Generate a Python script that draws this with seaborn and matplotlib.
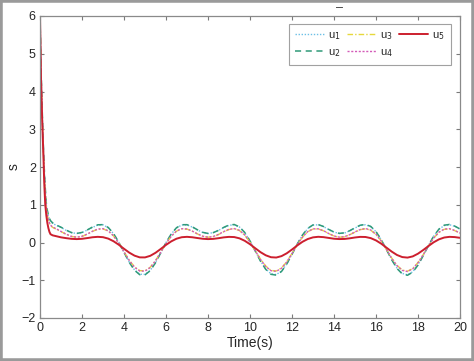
import numpy as np
import pandas as pd
import seaborn as sns
import matplotlib.pyplot as plt
from matplotlib.patches import Rectangle

# time samples: dense at the start for the fast transient, then every 0.25 s
t_start = [0.0, 0.05, 0.1, 0.15, 0.2, 0.25, 0.3, 0.35, 0.4, 0.45, 0.5, 0.6, 0.75]
t_rest = [1.0, 1.25, 1.5, 1.75, 2.0, 2.25, 2.5, 2.75, 3.0, 3.25, 3.5, 3.75,
          4.0, 4.25, 4.5, 4.75, 5.0, 5.25, 5.5, 5.75, 6.0, 6.25, 6.5, 6.75,
          7.0, 7.25, 7.5, 7.75, 8.0, 8.25, 8.5, 8.75, 9.0, 9.25, 9.5, 9.75,
          10.0, 10.25, 10.5, 10.75, 11.0, 11.25, 11.5, 11.75, 12.0, 12.25, 12.5, 12.75,
          13.0, 13.25, 13.5, 13.75, 14.0, 14.25, 14.5, 14.75, 15.0, 15.25, 15.5, 15.75,
          16.0, 16.25, 16.5, 16.75, 17.0, 17.25, 17.5, 17.75, 18.0, 18.25, 18.5, 18.75,
          19.0, 19.25, 19.5, 19.75, 20.0]
time = t_start + t_rest

# outer curve (u2, u1 lies on top of it)
u2 = [6.0, 4.6, 3.6, 2.7, 2.0, 1.45, 1.05, 0.85, 0.72, 0.64, 0.58, 0.52, 0.47,
      0.405, 0.326, 0.263, 0.240, 0.267, 0.332, 0.410, 0.469, 0.473, 0.398, 0.239, 0.009,
      -0.262, -0.526, -0.735, -0.853, -0.856, -0.746, -0.538, -0.275, -0.003, 0.227, 0.392, 0.471,
      0.472, 0.415, 0.336, 0.269, 0.240, 0.261, 0.321, 0.401, 0.464, 0.477, 0.413, 0.265,
      0.042, -0.226, -0.494, -0.712, -0.843, -0.864, -0.768, -0.571, -0.314, -0.041, 0.199, 0.375,
      0.466, 0.475, 0.424, 0.346, 0.277, 0.242, 0.255, 0.312, 0.391, 0.458, 0.479, 0.426,
      0.289, 0.075, -0.191, -0.460, -0.689, -0.833, -0.868, -0.785, -0.599, -0.348, -0.077, 0.171,
      0.356, 0.459, 0.478, 0.434, 0.358]
u1 = [6.0, 4.5, 3.55, 2.65, 1.95, 1.4, 1.0, 0.82, 0.7, 0.62, 0.56, 0.51, 0.46,
      0.40, 0.32, 0.26, 0.24, 0.26, 0.33, 0.40, 0.46, 0.47, 0.39, 0.235, 0.01,
      -0.26, -0.52, -0.725, -0.84, -0.845, -0.74, -0.53, -0.27, 0.0, 0.225, 0.385, 0.465,
      0.465, 0.41, 0.33, 0.265, 0.24, 0.26, 0.32, 0.395, 0.455, 0.47, 0.41, 0.26,
      0.04, -0.225, -0.49, -0.70, -0.83, -0.85, -0.76, -0.565, -0.31, -0.04, 0.195, 0.37,
      0.46, 0.47, 0.42, 0.34, 0.275, 0.24, 0.25, 0.31, 0.385, 0.45, 0.47, 0.42,
      0.285, 0.075, -0.19, -0.455, -0.68, -0.82, -0.855, -0.775, -0.59, -0.345, -0.075, 0.17,
      0.35, 0.45, 0.47, 0.43, 0.355]
# middle curves (u3 and u4 almost coincide)
u4 = [6.0, 4.5, 3.5, 2.6, 1.9, 1.35, 0.95, 0.74, 0.6, 0.52, 0.46, 0.41, 0.37,
      0.293, 0.219, 0.161, 0.140, 0.165, 0.224, 0.298, 0.356, 0.367, 0.309, 0.177, -0.018,
      -0.248, -0.475, -0.654, -0.755, -0.759, -0.663, -0.485, -0.259, -0.028, 0.166, 0.303, 0.365,
      0.359, 0.302, 0.228, 0.167, 0.140, 0.159, 0.215, 0.289, 0.350, 0.369, 0.321, 0.198,
      0.010, -0.218, -0.447, -0.634, -0.747, -0.765, -0.682, -0.514, -0.293, -0.059, 0.144, 0.289,
      0.361, 0.362, 0.312, 0.238, 0.174, 0.141, 0.154, 0.207, 0.280, 0.344, 0.370, 0.331,
      0.218, 0.038, -0.188, -0.418, -0.614, -0.738, -0.769, -0.697, -0.537, -0.322, -0.091, 0.120,
      0.274, 0.356, 0.366, 0.320, 0.249]
u3 = [6.0, 4.45, 3.45, 2.55, 1.85, 1.3, 0.93, 0.72, 0.59, 0.51, 0.45, 0.40, 0.36,
      0.29, 0.215, 0.16, 0.14, 0.16, 0.22, 0.295, 0.35, 0.36, 0.305, 0.175, -0.015,
      -0.245, -0.47, -0.645, -0.745, -0.75, -0.655, -0.48, -0.255, -0.025, 0.165, 0.3, 0.36,
      0.355, 0.3, 0.225, 0.165, 0.14, 0.155, 0.21, 0.285, 0.345, 0.365, 0.315, 0.195,
      0.01, -0.215, -0.44, -0.625, -0.74, -0.755, -0.675, -0.51, -0.29, -0.055, 0.14, 0.285,
      0.355, 0.36, 0.31, 0.235, 0.17, 0.14, 0.15, 0.205, 0.275, 0.34, 0.365, 0.325,
      0.215, 0.04, -0.185, -0.415, -0.605, -0.73, -0.76, -0.69, -0.53, -0.32, -0.09, 0.12,
      0.27, 0.35, 0.36, 0.315, 0.245]
# inner curve (u5)
u5 = [6.0, 4.3, 3.3, 2.5, 1.6, 1.0, 0.72, 0.52, 0.38, 0.28, 0.22, 0.19, 0.17,
      0.137, 0.115, 0.097, 0.090, 0.098, 0.117, 0.139, 0.150, 0.141, 0.103, 0.034, -0.059,
      -0.166, -0.268, -0.348, -0.394, -0.395, -0.353, -0.273, -0.171, -0.064, 0.030, 0.101, 0.140,
      0.150, 0.139, 0.118, 0.099, 0.090, 0.096, 0.114, 0.136, 0.149, 0.144, 0.110, 0.045,
      -0.046, -0.152, -0.256, -0.339, -0.390, -0.398, -0.361, -0.286, -0.186, -0.078, 0.019, 0.092,
      0.136, 0.151, 0.142, 0.121, 0.100, 0.091, 0.094, 0.111, 0.133, 0.149, 0.146, 0.116,
      0.055, -0.032, -0.137, -0.242, -0.331, -0.386, -0.400, -0.368, -0.296, -0.199, -0.093, 0.007,
      0.084, 0.132, 0.150, 0.143, 0.124]

series_names = ["u$_1$", "u$_2$", "u$_3$", "u$_4$", "u$_5$"]
series_values = [u1, u2, u3, u4, u5]
colors = ["#6cc0e6", "#2f9a78", "#e6d83c", "#d45bb8", "#cc1f2e"]
styles = [(0, (1, 1.2)), (0, (4, 3)), (0, (4, 1.5, 1, 1.5)), (0, (1.5, 1.2)), "-"]
widths = [1.0, 1.1, 1.0, 1.0, 1.4]

sns.set_theme(style="ticks")
plt.rcParams["font.family"] = ["Liberation Sans", "DejaVu Sans"]

fig = plt.figure(figsize=(4.74, 3.61), dpi=100)
ax = fig.add_axes([40 / 474, 43 / 361, 420 / 474, 302 / 361])

for name, vals, c, ls, lw in zip(series_names, series_values, colors, styles, widths):
    df = pd.DataFrame({"t": time, "v": vals})
    sns.lineplot(data=df, x="t", y="v", ax=ax, color=c, linestyle=ls,
                 linewidth=lw, label=name, estimator=None, sort=False)

ax.set_xlim(0, 20)
ax.set_ylim(-2, 6)
ax.set_xticks(np.arange(0, 21, 2))
ax.set_yticks(np.arange(-2, 7, 1))
ax.tick_params(direction="in", length=3, width=0.8, top=True, right=True,
               labelsize=9, colors="#7a7a7a", labelcolor="#262626", pad=3)
for sp in ax.spines.values():
    sp.set_visible(True)
    sp.set_color("#8a8a8a")
    sp.set_linewidth(0.9)
ax.set_xlabel("Time(s)", fontsize=10, color="#262626", labelpad=1)
ax.set_ylabel("s", fontsize=10, color="#262626", labelpad=1)

leg = ax.legend(ncol=3, loc="upper right", bbox_to_anchor=(0.978, 0.974),
                borderaxespad=0, fontsize=8, handlelength=2.6, handletextpad=0.35,
                columnspacing=0.6, labelspacing=0.45, borderpad=0.55,
                frameon=True, fancybox=False)
leg.get_frame().set_edgecolor("#8a8a8a")
leg.get_frame().set_linewidth(0.8)

# small dash above the axes and the gray picture border
fig.text(340 / 474, 1 - 8 / 361, "\u2013", fontsize=9, ha="center", va="center", color="#333333")
fig.patches.append(Rectangle((0, 0), 1, 1, transform=fig.transFigure, fill=False,
                             edgecolor="#9a9a9a", linewidth=4, zorder=10))

fig.savefig("out.png", dpi=100)
